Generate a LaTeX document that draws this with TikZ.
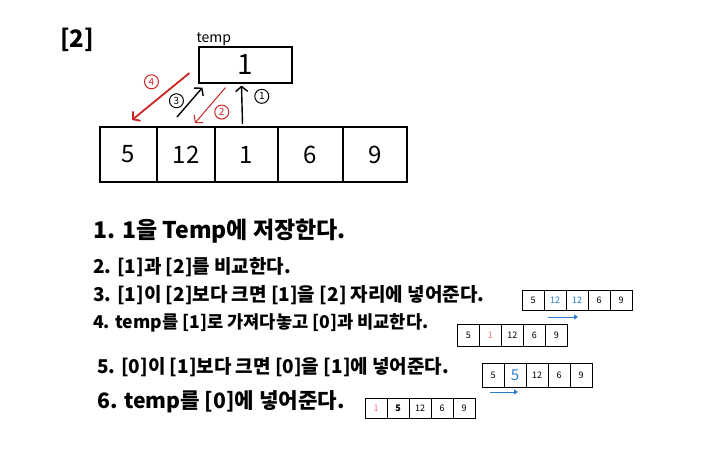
\documentclass[tikz,border=0pt]{standalone}
\usepackage{fontspec}
\setmainfont{Noto Sans CJK KR}
\usepackage{xcolor}
\usetikzlibrary{positioning,arrows.meta}

\definecolor{penred}{RGB}{205,35,35}
\definecolor{penblue}{RGB}{40,125,205}
\definecolor{penpink}{RGB}{232,120,120}

\begin{document}
\begin{tikzpicture}[
    x=1pt, y=-1pt,
    cell/.style={rectangle, draw, line width=1.1pt, minimum height=55pt, inner sep=0pt, outer sep=0pt, font=\fontsize{24}{24}\selectfont},
    mini/.style={rectangle, draw, minimum width=22pt, minimum height=20pt, inner sep=0pt, outer sep=0pt, font=\fontsize{9}{9}\selectfont},
    desc/.style={anchor=base west, inner sep=0pt},
    circ/.style={circle, draw, line width=1pt, minimum size=14pt, inner sep=0pt, font=\fontsize{10}{10}\selectfont},
    arrow/.style={-{Straight Barb[length=5pt,width=12pt]}, line width=1.4pt},
    small arrow/.style={-{Triangle[length=4pt,width=5pt]}, line width=1pt}
]
    \useasboundingbox (0,0) rectangle (716,475);

    % title and temp box
    \node[font=\bfseries\fontsize{24}{24}\selectfont] (title) at (77,40) {[2]};
    \node[rectangle, draw, line width=1.1pt, minimum width=93pt, minimum height=36pt, font=\fontsize{28}{28}\selectfont] (temp) at (245.5,65) {1};
    \node[anchor=south west, inner sep=1pt, font=\fontsize{14}{14}\selectfont] (templabel) at ([xshift=-3pt]temp.north west) {temp};

    % main array
    \node[cell, minimum width=57pt] (a0) at (128.5,154.5) {5};
    \node[cell, minimum width=58pt, right=0pt of a0] (a1) {12};
    \node[cell, minimum width=63pt, right=0pt of a1] (a2) {1};
    \node[cell, minimum width=65pt, right=0pt of a2] (a3) {6};
    \node[cell, minimum width=64pt, right=0pt of a3] (a4) {9};

    % numbered moves
    \draw[arrow] ([xshift=-4pt,yshift=3pt]a2.north) -- ([xshift=-4pt,yshift=-2pt]temp.south)
        node[circ, pos=0.72, xshift=20pt] (n1) {1};
    \draw[arrow, penred, line width=1pt] ([xshift=-20pt,yshift=-4pt]temp.south) -- ([xshift=9pt,yshift=4pt]a1.north)
        node[circ, pos=0.55, xshift=13pt, yshift=-5pt] (n2) {2};
    \draw[arrow] ([xshift=-9pt,yshift=10pt]a1.north) -- ([xshift=4pt,yshift=-4pt]temp.south west)
        node[circ, black, pos=0.45, xshift=-12pt, yshift=3pt] (n3) {3};
    \draw[arrow, penred, line width=1.8pt] ([xshift=-9pt,yshift=-8pt]temp.west) -- ([xshift=3.5pt,yshift=7pt]a0.north)
        node[circ, pos=0.4, xshift=-15pt, yshift=10pt] (n4) {4};

    % steps
    \node[desc, font=\bfseries\fontsize{23}{23}\selectfont] (s1) at (93,238) {1. 1을 Temp에 저장한다.};
    \node[desc, font=\bfseries\fontsize{19}{19}\selectfont] (s2) at (93,273) {2. [1]과 [2]를 비교한다.};
    \node[desc, font=\bfseries\fontsize{19}{19}\selectfont] (s3) at (93,301) {3. [1]이 [2]보다 크면 [1]을 [2] 자리에 넣어준다.};
    \node[desc, font=\bfseries\fontsize{17.6}{17.6}\selectfont] (s4) at (93,328) {4. temp를 [1]로 가져다놓고 [0]과 비교한다.};
    \node[desc, font=\bfseries\fontsize{19}{19}\selectfont] (s5) at (97,373) {5. [0]이 [1]보다 크면 [0]을 [1]에 넣어준다.};
    \node[desc, font=\bfseries\fontsize{21.2}{21.2}\selectfont] (s6) at (97,408) {6. temp를 [0]에 넣어준다.};

    % state after step 3
    \node[mini] (b0) at (533,300) {5};
    \node[mini, right=0pt of b0, text=penblue] (b1) {12};
    \node[mini, right=0pt of b1, text=penblue] (b2) {12};
    \node[mini, right=0pt of b2] (b3) {6};
    \node[mini, right=0pt of b3] (b4) {9};
    \draw[small arrow, penblue] ([xshift=-7pt,yshift=-7pt]b1.south) -- ([xshift=1pt,yshift=-7pt]b2.south);

    % state after step 4
    \node[mini, minimum height=22pt] (c0) at (468.3,335) {5};
    \node[mini, minimum height=22pt, right=0pt of c0, text=penpink] (c1) {1};
    \node[mini, minimum height=22pt, right=0pt of c1] (c2) {12};
    \node[mini, minimum height=22pt, right=0pt of c2] (c3) {6};
    \node[mini, minimum height=22pt, right=0pt of c3] (c4) {9};

    % state after step 5
    \node[mini, minimum height=24pt] (d0) at (493,375) {5};
    \node[mini, minimum height=24pt, right=0pt of d0, text=penblue, font=\fontsize{15}{15}\selectfont] (d1) {5};
    \node[mini, minimum height=24pt, right=0pt of d1] (d2) {12};
    \node[mini, minimum height=24pt, right=0pt of d2] (d3) {6};
    \node[mini, minimum height=24pt, right=0pt of d3] (d4) {9};
    \draw[small arrow, penblue] ([xshift=-3pt,yshift=-5pt]d0.south) -- ([xshift=3pt,yshift=-5pt]d1.south);

    % state after step 6
    \node[mini, text=penpink] (e0) at (376,408) {1};
    \node[mini, right=0pt of e0, font=\bfseries\fontsize{9}{9}\selectfont] (e1) {5};
    \node[mini, right=0pt of e1] (e2) {12};
    \node[mini, right=0pt of e2] (e3) {6};
    \node[mini, right=0pt of e3] (e4) {9};
\end{tikzpicture}
\end{document}
